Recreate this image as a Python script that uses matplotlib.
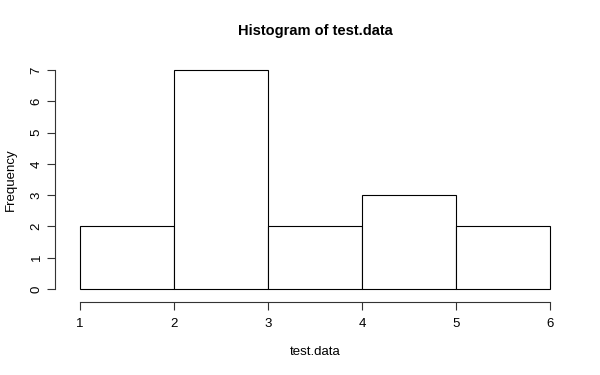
import matplotlib
matplotlib.use("Agg")
import matplotlib.pyplot as plt

plt.rcParams['font.family'] = ['Liberation Sans', 'DejaVu Sans']

bin_edges = [1, 2, 3, 4, 5, 6]
counts = [2, 7, 2, 3, 2]
x_ticks = [1, 2, 3, 4, 5, 6]
y_ticks = [0, 1, 2, 3, 4, 5, 6, 7]

W, H = 600, 375
fig = plt.figure(figsize=(6, 3.75), dpi=100)
ax = fig.add_axes([80/W, 1 - 289/H, 470/W, 219/H])

bars = ax.bar(bin_edges[:-1], counts, width=1, align='edge',
              facecolor='white', edgecolor='black', linewidth=0.8)
for b in bars:
    b.set_clip_on(False)

ax.set_xlim(1, 6)
ax.set_ylim(0, 7)
for s in ['top', 'right']:
    ax.spines[s].set_visible(False)
ax.spines['bottom'].set_position(('outward', 9))
ax.spines['left'].set_position(('outward', 18))
ax.spines['bottom'].set_bounds(1, 6)
ax.spines['left'].set_bounds(0, 7)
for s in ['bottom', 'left']:
    ax.spines[s].set_linewidth(0.8)
    ax.spines[s].set_color('#333333')

ax.set_xticks(x_ticks)
ax.set_yticks(y_ticks)
ax.tick_params(length=6, width=0.8, color='#333333', labelsize=9.5)
ax.tick_params(axis='x', pad=6)
ax.tick_params(axis='y', pad=3)
for lab in ax.get_yticklabels():
    lab.set_rotation(90)
    lab.set_va('center')

# title and axis labels placed like R's base graphics
fig.text(315/W, 1 - 31/H, "Histogram of test.data", fontsize=10.5,
         fontweight='bold', ha='center', va='center')
fig.text(315/W, 1 - 352/H, "test.data", fontsize=9.5, ha='center', va='center')
fig.text(11/W, 1 - 180/H, "Frequency", fontsize=9.5, rotation=90,
         ha='center', va='center')

fig.savefig("out.png", dpi=100)
